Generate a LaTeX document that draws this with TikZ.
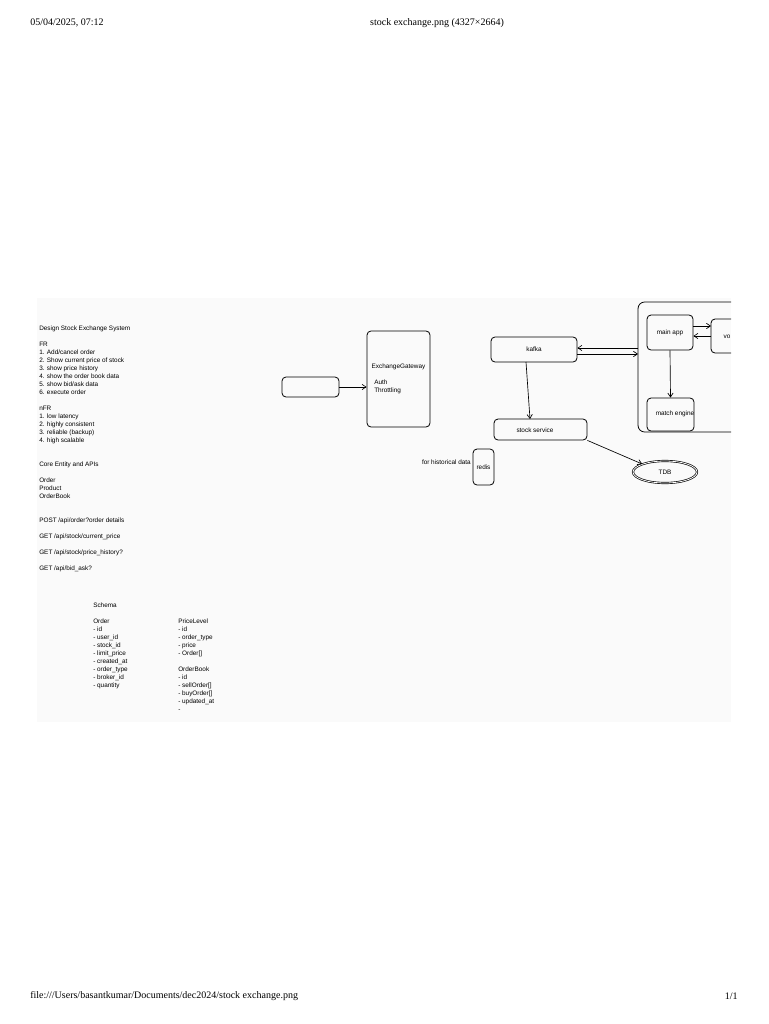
\documentclass[tikz,border=0pt]{standalone}
\usepackage{fontspec}
\setmainfont{Liberation Serif}
\newfontfamily\hand{Liberation Sans}
\usetikzlibrary{arrows.meta,shapes.geometric}
\begin{document}
\begin{tikzpicture}[x=0.75pt,y=-0.75pt,
  box/.style={draw,rounded corners=3pt,line width=0.6pt},
  txt/.style={font=\hand\fontsize{4.8}{6}\selectfont,align=left,inner sep=0pt},
  arr/.style={-{Straight Barb[length=3pt,width=4pt]},line width=0.5pt},
  hdr/.style={font=\fontsize{7.5}{9}\selectfont,inner sep=0pt}]
\useasboundingbox (0,0) rectangle (768,1024);
\fill[white] (0,0) rectangle (768,1024);
\fill[black!2] (37,298) rectangle (731,722);
\node[hdr,anchor=west] (date) at (30,23) {05/04/2025, 07:12};
\node[hdr] (title) at (437,23) {stock exchange.png (4327×2664)};
\node[hdr,anchor=west] (foot) at (30,996) {file:///Users/basantkumar/Documents/dec2024/stock exchange.png};
\node[hdr,anchor=east] (page) at (738,996) {1/1};

\node[txt,anchor=north west] (req) at (39,326) {Design Stock Exchange System\\[6pt]FR\\1. Add/cancel order\\2. Show current price of stock\\3. show price history\\4. show the order book data\\5. show bid/ask data\\6. execute order\\[6pt]nFR\\1. low latency\\2. highly consistent\\3. reliable (backup)\\4. high scalable\\[12pt]Core Entity and APIs\\[6pt]Order\\Product\\OrderBook\\[12pt]POST /api/order?order details\\[6pt]GET /api/stock/current\_price\\[6pt]GET /api/stock/price\_history?\\[6pt]GET /api/bid\_ask?};
\node[txt,anchor=north west] (schema) at (93,603) {Schema\\[6pt]Order\\- id\\- user\_id\\- stock\_id\\- limit\_price\\- created\_at\\- order\_type\\- broker\_id\\- quantity};
\node[txt,anchor=north west] (schema2) at (178,619) {PriceLevel\\- id\\- order\_type\\- price\\- Order[]\\[6pt]OrderBook\\- id\\- sellOrder[]\\- buyOrder[]\\- updated\_at\\-};

\node[box,minimum width=57*0.75pt,minimum height=20*0.75pt] (client) at (310.5,387) {};
\node[box,minimum width=63*0.75pt,minimum height=96*0.75pt] (gw) at (398.5,379) {};
\node[txt] at (398.5,367) {ExchangeGateway};
\node[txt,anchor=north west] at (374,380) {Auth\\Throttling};
\draw[arr] (client.east) -- (gw.west|-client.east);

\node[box,minimum width=86*0.75pt,minimum height=25*0.75pt,txt] (kafka) at (534,349.5) {kafka};
\draw[line width=0.6pt,rounded corners=5pt] (731,302) -- (638,302) -- (638,432) -- (731,432);
\coordinate (cin) at (638,348);
\coordinate (cout) at (638,354);
\draw[arr] (cin) -- (kafka.east|-cin);
\draw[arr] (kafka.east|-cout) -- (cout);
\node[box,minimum width=46*0.75pt,minimum height=35*0.75pt,txt] (main) at (670,332.5) {main app};
\draw[line width=0.6pt,rounded corners=3pt] (731,319) -- (711,319) -- (711,353) -- (731,353);
\node[txt] (vo) at (727,337) {vo};
\coordinate (vol) at (711,326);
\coordinate (vol2) at (711,336);
\draw[arr] (main.east|-vol) -- (vol);
\draw[arr] (vol2) -- (main.east|-vol2);
\node[box,minimum width=47*0.75pt,minimum height=33*0.75pt] (match) at (670.5,414.5) {};
\node[txt] at (675,414) {match engine};
\draw[arr] (main.south) -- (match.north);

\node[box,minimum width=93*0.75pt,minimum height=21*0.75pt] (stock) at (540.5,429.5) {};
\node[txt] at (535,430) {stock service};
\draw[arr] (526,362) -- (530,419);
\node[draw,ellipse,double,line width=0.5pt,minimum width=64*0.75pt,minimum height=22*0.75pt,txt] (tdb) at (665,472) {TDB};
\draw[arr] (stock.south east) -- (tdb.north west);
\node[box,minimum width=21*0.75pt,minimum height=36*0.75pt,txt] (redis) at (483.5,467) {redis};
\node[txt,anchor=east] (hist) at (471,462) {for historical data};
\end{tikzpicture}
\end{document}
